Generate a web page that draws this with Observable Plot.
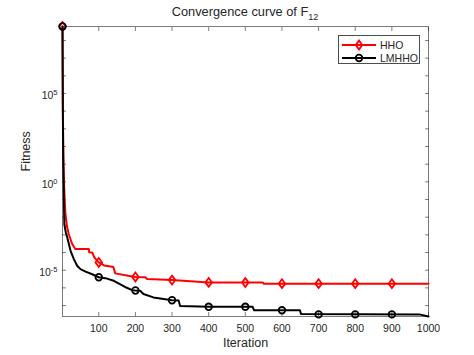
<!DOCTYPE html>
<html>
<head>
<meta charset="utf-8">
<script src="https://cdn.jsdelivr.net/npm/d3@7"></script>
<script src="https://cdn.jsdelivr.net/npm/@observablehq/plot@0.6"></script>
<style>
  html, body { margin: 0; padding: 0; background: #fff; }
  #wrap { position: relative; width: 474px; height: 355px; font-family: "Liberation Sans", Arial, sans-serif; color: #262626; }
  #title { position: absolute; left: 62px; width: 366px; top: 5px; text-align: center; font-size: 12.8px; line-height: 14px; white-space: nowrap; }
  #title sub { font-size: 9px; vertical-align: -4px; line-height: 0; }
  #legend { position: absolute; left: 338px; top: 35px; width: 82px; height: 29px; box-sizing: border-box; border: 1px solid #4d4d4d; background: #fff; }
</style>
</head>
<body>
<div id="wrap">
  <div id="chart"></div>
  <div id="title">Convergence curve of F<sub>12</sub></div>
  <div id="legend"></div>
</div>
<script>
// ---- data (log10 of fitness) ----
const seriesNames = ["HHO", "LMHHO"];
const seriesColors = ["#ff0000", "#000000"];

const hhoIter = [1, 2, 3, 4, 5, 7, 9, 13, 18, 27, 36, 73, 74, 82, 88, 97, 100, 109, 115, 140, 145, 180, 200, 227, 232, 300, 400, 500, 548, 550, 1000];
const hhoLog  = [8.79, 4.2, 2.0, 0.8, 0.0, -1.0, -1.8, -2.5, -2.95, -3.5, -3.8, -3.8, -3.99, -4.0, -4.28, -4.5, -4.56, -4.65, -4.74, -4.82, -5.18, -5.32, -5.38, -5.4, -5.5, -5.56, -5.69, -5.7, -5.7, -5.76, -5.76];

const lmIter = [1, 2, 3, 4, 6, 10, 14, 23, 32, 41, 50, 64, 82, 100, 118, 141, 159, 175, 191, 200, 213, 222, 249, 300, 318, 322, 400, 500, 520, 524, 649, 652, 975, 1000];
const lmLog  = [8.79, 3.8, 1.2, 0.0, -2.4, -2.85, -3.15, -3.9, -4.37, -4.75, -4.94, -5.08, -5.23, -5.4, -5.45, -5.6, -5.8, -5.98, -6.13, -6.15, -6.16, -6.35, -6.54, -6.7, -6.72, -7.02, -7.07, -7.07, -7.07, -7.27, -7.27, -7.48, -7.5, -7.62];

const markerIter = [1, 100, 200, 300, 400, 500, 600, 700, 800, 900];
const hhoMarkLog = [8.79, -4.56, -5.38, -5.56, -5.69, -5.7, -5.76, -5.76, -5.76, -5.76];
const lmMarkLog  = [8.79, -5.4, -6.15, -6.7, -7.07, -7.07, -7.27, -7.5, -7.5, -7.5];

const xTicks = [100, 200, 300, 400, 500, 600, 700, 800, 900, 1000];
const yLabelExps = [-5, 0, 5];
const yMinorExps = [-7, -6, -5, -4, -3, -2, -1, 0, 1, 2, 3, 4, 5, 6, 7, 8];
const xDomain = [1, 1000];
const yDomainExp = [-7.62, 8.79];

const xLabel = "Iteration";
const yLabel = "Fitness";

// ---- build tables ----
const toRows = (it, lg) => it.map((d, i) => ({iter: d, fit: Math.pow(10, lg[i])}));
const hho = toRows(hhoIter, hhoLog);
const lm = toRows(lmIter, lmLog);
const hhoM = toRows(markerIter, hhoMarkLog);
const lmM = toRows(markerIter, lmMarkLog);

const diamond = {
  draw(ctx, size) {
    const r = Math.sqrt(size / Math.PI);
    const h = r * 1.35, w = r;
    ctx.moveTo(0, -h); ctx.lineTo(w, 0); ctx.lineTo(0, h); ctx.lineTo(-w, 0); ctx.closePath();
  }
};

const axisColor = "#262626";
const noText = () => "";

const plot = Plot.plot({
  width: 474,
  height: 355,
  marginLeft: 62,
  marginRight: 46,
  marginTop: 26,
  marginBottom: 39,
  style: {fontFamily: "'Liberation Sans', Arial, sans-serif", fontSize: "10px", color: axisColor, background: "transparent", overflow: "visible"},
  x: {domain: xDomain},
  y: {type: "log", domain: yDomainExp.map(e => Math.pow(10, e))},
  marks: [
    Plot.frame({stroke: axisColor, strokeWidth: 0.6}),
    Plot.axisX(xTicks, {anchor: "bottom", tickSize: -4, tickFormat: noText, label: null, stroke: axisColor, strokeWidth: 0.6}),
    Plot.axisX(xTicks, {anchor: "top", tickSize: -4, tickFormat: noText, label: null, stroke: axisColor, strokeWidth: 0.6}),
    Plot.axisX(xTicks, {anchor: "bottom", tickSize: 0, tickPadding: 8, label: null, fill: axisColor, fontSize: 10.5, tickFormat: d => String(d)}),
    Plot.axisY(yMinorExps.map(e => Math.pow(10, e)), {anchor: "left", tickSize: -4, tickFormat: noText, label: null, stroke: axisColor, strokeWidth: 0.6}),
    Plot.axisY(yMinorExps.map(e => Math.pow(10, e)), {anchor: "right", tickSize: -4, tickFormat: noText, label: null, stroke: axisColor, strokeWidth: 0.6}),
    Plot.axisY(yLabelExps.map(e => Math.pow(10, e)), {anchor: "left", tickSize: 0, tickPadding: 5, label: null, fill: axisColor, fontSize: 10.5,
      tickFormat: d => "10^" + Math.round(Math.log10(d))}),
    Plot.text([xLabel], {frameAnchor: "bottom", dy: 30, fontSize: 12.5, fill: axisColor}),
    Plot.text([yLabel], {frameAnchor: "left", dx: -37, rotate: -90, fontSize: 12.5, fill: axisColor}),
    Plot.line(hho, {x: "iter", y: "fit", stroke: seriesColors[0], strokeWidth: 2}),
    Plot.dot(hhoM, {x: "iter", y: "fit", symbol: diamond, r: 3.3, stroke: seriesColors[0], fill: "none", strokeWidth: 1.8}),
    Plot.line(lm, {x: "iter", y: "fit", stroke: seriesColors[1], strokeWidth: 2}),
    Plot.dot(lmM, {x: "iter", y: "fit", symbol: "circle", r: 3.3, stroke: seriesColors[1], fill: "none", strokeWidth: 1.8})
  ]
});
document.getElementById("chart").appendChild(plot);

// superscript exponents on y tick labels
d3.select(plot).selectAll('g[aria-label="y-axis tick label"] text').each(function() {
  const t = this.textContent;
  if (!t.includes("^")) return;
  const [base, exp] = t.split("^");
  const sel = d3.select(this);
  sel.text(null);
  sel.append("tspan").attr("dy", "0.25em").text(base);
  sel.append("tspan").attr("dy", "-0.55em").attr("font-size", "7.5px").text(exp);
});

// legend
const leg = d3.select("#legend").append("svg").attr("width", 80).attr("height", 27)
  .style("font-family", "'Liberation Sans', Arial, sans-serif").style("font-size", "10.5px");
seriesNames.forEach((name, i) => {
  const y = 9 + i * 13;
  leg.append("line").attr("x1", 3).attr("x2", 37).attr("y1", y).attr("y2", y)
    .attr("stroke", seriesColors[i]).attr("stroke-width", 2);
  if (i === 0) {
    leg.append("path").attr("d", `M20,${y - 4.4}L23.3,${y}L20,${y + 4.4}L16.7,${y}Z`)
      .attr("fill", "none").attr("stroke", seriesColors[i]).attr("stroke-width", 1.8);
  } else {
    leg.append("circle").attr("cx", 20).attr("cy", y).attr("r", 3.3)
      .attr("fill", "none").attr("stroke", seriesColors[i]).attr("stroke-width", 1.8);
  }
  leg.append("text").attr("x", 41).attr("y", y).attr("dy", "0.35em").attr("fill", "#262626").text(name);
});
</script>
</body>
</html>
